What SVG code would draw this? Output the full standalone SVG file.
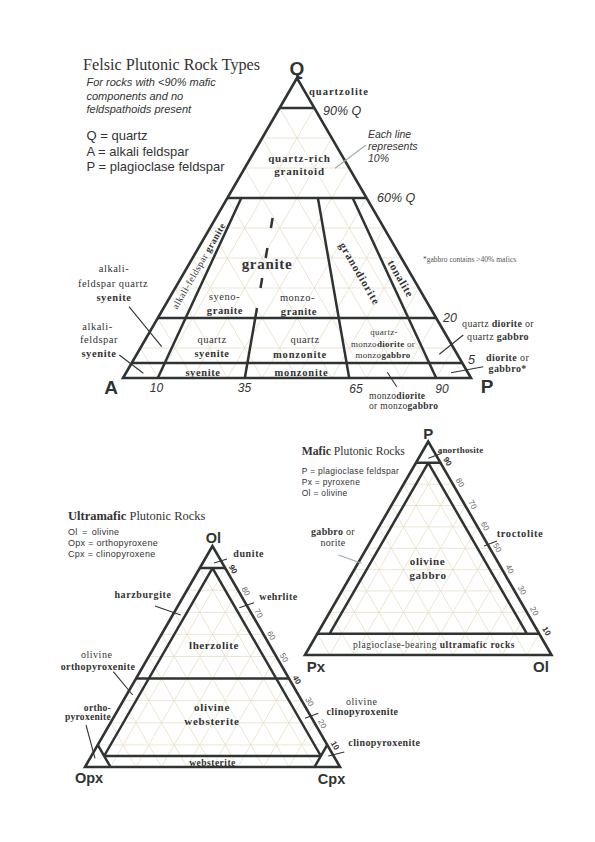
<svg xmlns="http://www.w3.org/2000/svg" width="595" height="842" viewBox="0 0 595 842">
<style>
.bg{fill:#ffffff}
.grid{fill:none;stroke:#e6dfc8;stroke-width:0.8}
.edge{fill:none;stroke:#2f3432;stroke-width:2.6;stroke-linejoin:miter}
.ln{fill:none;stroke:#2f3432;stroke-width:2.5;stroke-linecap:butt}
.lead{fill:none;stroke:#2f3432;stroke-width:1.1}
.leadg{fill:none;stroke:#9aabab;stroke-width:1.1}
text{fill:#333}
.sr{font-family:"Liberation Serif","Times New Roman",serif}
.b{font-weight:bold}
.ss{font-family:"Liberation Sans",Arial,sans-serif}
.it{font-style:italic}
.vx{font-family:"Liberation Sans",Arial,sans-serif;font-weight:bold;fill:#2f3432}
.tk{font-family:"Liberation Sans",Arial,sans-serif;font-size:8px;fill:#666}
.tkb{font-family:"Liberation Sans",Arial,sans-serif;font-size:8px;font-weight:bold;fill:#2f3432}
.m{text-anchor:middle}
.e{text-anchor:end}
</style>
<rect class="bg" x="0" y="0" width="595" height="842"/>

<!-- ================= FELSIC QAP ================= -->
<g id="felsic-title">
<text class="sr" x="83" y="69.5" font-size="16.2">Felsic Plutonic Rock Types</text>
<text class="ss it" x="86.5" y="86" font-size="11">For rocks with &lt;90% mafic</text>
<text class="ss it" x="86.5" y="99.5" font-size="11">components and no</text>
<text class="ss it" x="86.5" y="113" font-size="11">feldspathoids present</text>
<text class="ss" x="86.5" y="140" font-size="13">Q = quartz</text>
<text class="ss" x="86.5" y="155.5" font-size="13">A = alkali feldspar</text>
<text class="ss" x="86.5" y="170.5" font-size="13">P = plagioclase feldspar</text>
</g>

<g id="qap-grid">
<path class="grid" d="M140.4,348H453.6 M157.8,318H436.2 M175.2,288H418.8 M192.6,258H401.4 M210,228H384 M227.4,198H366.6 M244.8,168H349.2 M262.2,138H331.8 M279.6,108H314.4
M157.8,378L314.4,108 M192.6,378L331.8,138 M227.4,378L349.2,168 M262.2,378L366.6,198 M297,378L384,228 M331.8,378L401.4,258 M366.6,378L418.8,288 M401.4,378L436.2,318 M436.2,378L453.6,348
M436.2,378L279.6,108 M401.4,378L262.2,138 M366.6,378L244.8,168 M331.8,378L227.4,198 M297,378L210,228 M262.2,378L192.6,258 M227.4,378L175.2,288 M192.6,378L157.8,318 M157.8,378L140.4,348"/>
</g>

<g id="qap-fields">
<path class="ln" d="M279.6,108H314.4 M227.4,198H366.6 M157.8,318H436.2 M131.7,363H462.3"/>
<path class="ln" d="M157.8,378L241.3,198 M349.2,378L317.9,198 M436.2,378L352.7,198"/>
<path class="ln" d="M244.8,378L257,308 M260.5,288L262.2,278 M265.7,258L267.4,248 M270.9,228L272.6,218"/>
<polygon class="edge" points="297,78 123,378 471,378"/>
</g>

<g id="qap-vertices">
<text class="vx m" x="297" y="75" font-size="19">Q</text>
<text class="vx m" x="111" y="394" font-size="19">A</text>
<text class="vx m" x="487" y="393" font-size="19">P</text>
</g>

<g id="qap-scale">
<text class="ss it" x="323" y="115" font-size="12.5">90% Q</text>
<text class="ss it" x="377" y="201.5" font-size="12.5">60% Q</text>
<text class="ss it" x="443" y="321.5" font-size="12.5">20</text>
<text class="ss it" x="468" y="364" font-size="12.5">5</text>
<text class="ss it m" x="156.5" y="392" font-size="12">10</text>
<text class="ss it m" x="244.5" y="392" font-size="12">35</text>
<text class="ss it m" x="356" y="392.5" font-size="12">65</text>
<text class="ss it m" x="442" y="392.5" font-size="12">90</text>
<text class="ss it" x="368" y="137.5" font-size="10.5">Each line</text>
<text class="ss it" x="368" y="149.5" font-size="10.5">represents</text>
<text class="ss it" x="368" y="162" font-size="10.5">10%</text>
</g>

<g id="qap-labels">
<g id="quartzolite"><text class="sr b" x="309" y="95" font-size="10.5" letter-spacing="1">quartzolite</text></g>
<g id="quartz-rich-granitoid">
<text class="sr b m" x="299.5" y="161.5" font-size="11" letter-spacing="0.8">quartz-rich</text>
<text class="sr b m" x="299.5" y="174.5" font-size="11" letter-spacing="0.8">granitoid</text>
</g>
<g id="granite"><text class="sr b m" x="267" y="268.5" font-size="15" letter-spacing="0.7">granite</text></g>
<g id="syenogranite">
<text class="sr m" x="224.5" y="300" font-size="10.5" letter-spacing="0.5">syeno-</text>
<text class="sr b m" x="225" y="314" font-size="10.5" letter-spacing="0.6">granite</text>
</g>
<g id="monzogranite">
<text class="sr m" x="297.5" y="300.5" font-size="10.5" letter-spacing="0.5">monzo-</text>
<text class="sr b m" x="299" y="314.5" font-size="10.5" letter-spacing="0.6">granite</text>
</g>
<g id="alkali-feldspar-granite">
<text class="sr" transform="translate(201.5,267.5) rotate(-60)" text-anchor="middle" font-size="9.5" letter-spacing="0.5">alkali-feldspar <tspan class="b">granite</tspan></text>
</g>
<g id="granodiorite"><text class="sr b" transform="translate(356.5,275.5) rotate(60)" text-anchor="middle" font-size="11" letter-spacing="1">granodiorite</text></g>
<g id="tonalite"><text class="sr b" transform="translate(397.5,280.5) rotate(60)" text-anchor="middle" font-size="11" letter-spacing="0.7">tonalite</text></g>
<g id="gabbro-note"><text class="sr" x="423" y="262" font-size="7.5" fill="#555" style="fill:#555">*gabbro contains &gt;40%  mafics</text></g>
<g id="alkali-feldspar-quartz-syenite">
<text class="sr m" x="114" y="272" font-size="10.5" letter-spacing="0.5">alkali-</text>
<text class="sr m" x="113" y="286.5" font-size="10.5" letter-spacing="0.5">feldspar quartz</text>
<text class="sr b m" x="114" y="301" font-size="10.5" letter-spacing="0.6">syenite</text>
</g>
<g id="alkali-feldspar-syenite">
<text class="sr m" x="97.5" y="329.5" font-size="10.5" letter-spacing="0.5">alkali-</text>
<text class="sr m" x="99" y="343" font-size="10.5" letter-spacing="0.5">feldspar</text>
<text class="sr b m" x="99" y="356.5" font-size="10.5" letter-spacing="0.6">syenite</text>
</g>
<g id="quartz-syenite">
<text class="sr m" x="212" y="343" font-size="10.5" letter-spacing="0.5">quartz</text>
<text class="sr b m" x="212" y="356.5" font-size="10.5" letter-spacing="0.6">syenite</text>
</g>
<g id="syenite"><text class="sr b m" x="203" y="375.5" font-size="10.5" letter-spacing="0.6">syenite</text></g>
<g id="quartz-monzonite">
<text class="sr m" x="305" y="343" font-size="10.5" letter-spacing="0.5">quartz</text>
<text class="sr b m" x="300" y="358" font-size="10.5" letter-spacing="0.8">monzonite</text>
</g>
<g id="monzonite"><text class="sr b m" x="301.5" y="376" font-size="10.5" letter-spacing="0.8">monzonite</text></g>
<g id="quartz-monzodiorite">
<text class="sr m" x="384" y="335" font-size="9" letter-spacing="0.3">quartz-</text>
<text class="sr m" x="383" y="346.5" font-size="9" letter-spacing="0.3">monzo<tspan class="b">diorite</tspan> or</text>
<text class="sr m" x="383" y="358" font-size="9" letter-spacing="0.3">monzo<tspan class="b">gabbro</tspan></text>
</g>
<g id="monzodiorite">
<text class="sr" x="369" y="399" font-size="9.5" letter-spacing="0.3">monzo<tspan class="b">diorite</tspan></text>
<text class="sr" x="369" y="408.5" font-size="9.5" letter-spacing="0.3">or monzo<tspan class="b">gabbro</tspan></text>
</g>
<g id="quartz-diorite">
<text class="sr m" x="498" y="326.5" font-size="10" letter-spacing="0.3">quartz <tspan class="b">diorite</tspan> or</text>
<text class="sr m" x="498" y="339.5" font-size="10" letter-spacing="0.3">quartz <tspan class="b">gabbro</tspan></text>
</g>
<g id="diorite">
<text class="sr" x="486" y="361" font-size="10" letter-spacing="0.4"><tspan class="b">diorite</tspan> or</text>
<text class="sr b" x="488.5" y="371.5" font-size="10" letter-spacing="0.4">gabbro*</text>
</g>
</g>

<!-- ================= ULTRAMAFIC ================= -->
<g id="ultramafic-title">
<text class="sr" x="68" y="520" font-size="12.5"><tspan class="b">Ultramafic</tspan> Plutonic Rocks</text>
<text class="ss" x="68" y="535" font-size="9" letter-spacing="0.3" word-spacing="1.5">Ol = olivine</text>
<text class="ss" x="68" y="546" font-size="9" letter-spacing="0.3">Opx = orthopyroxene</text>
<text class="ss" x="68" y="557" font-size="9" letter-spacing="0.3">Cpx = clinopyroxene</text>
</g>

<g id="um-grid">
<path class="grid" d="M97.75,744.9H327.25 M110.5,722.8H314.5 M123.25,700.7H301.75 M136,678.6H289 M148.75,656.5H276.25 M161.5,634.4H263.5 M174.25,612.3H250.75 M187,590.2H238 M199.75,568.1H225.25
M110.5,767L225.25,568.1 M136,767L238,590.2 M161.5,767L250.75,612.3 M187,767L263.5,634.4 M212.5,767L276.25,656.5 M238,767L289,678.6 M263.5,767L301.75,700.7 M289,767L314.5,722.8 M314.5,767L327.25,744.9
M314.5,767L199.75,568.1 M289,767L187,590.2 M263.5,767L174.25,612.3 M238,767L161.5,634.4 M212.5,767L148.75,656.5 M187,767L136,678.6 M161.5,767L123.25,700.7 M136,767L110.5,722.8 M110.5,767L97.75,744.9"/>
</g>

<g id="um-fields">
<path class="ln" d="M199.75,568.1H225.25 M136,678.6H289 M104.1,756H320.9 M212.5,568.1L104.1,756 M212.5,568.1L320.9,756 M97.75,744.9L110.5,767 M327.25,744.9L314.5,767"/>
<polygon class="edge" points="212.5,546 85,767 340,767"/>
</g>

<g id="um-vertices">
<text class="vx m" x="213.5" y="542.5" font-size="14.5">Ol</text>
<text class="vx m" x="89" y="782.5" font-size="14.5">Opx</text>
<text class="vx m" x="331.5" y="783.5" font-size="14.5">Cpx</text>
</g>

<g id="um-scale">
<text class="tkb m" transform="translate(233.25,569.1) rotate(60)" dy="0.35em">90</text>
<text class="tk m" transform="translate(246,591.2) rotate(60)" dy="0.35em">80</text>
<text class="tk m" transform="translate(258.75,613.3) rotate(60)" dy="0.35em">70</text>
<text class="tk m" transform="translate(271.5,635.4) rotate(60)" dy="0.35em">60</text>
<text class="tk m" transform="translate(284.25,657.5) rotate(60)" dy="0.35em">50</text>
<text class="tkb m" transform="translate(297,679.6) rotate(60)" dy="0.35em">40</text>
<text class="tk m" transform="translate(309.75,701.7) rotate(60)" dy="0.35em">30</text>
<text class="tk m" transform="translate(322.5,723.8) rotate(60)" dy="0.35em">20</text>
<text class="tkb m" transform="translate(335.25,745.4) rotate(60)" dy="0.35em">10</text>
</g>

<g id="um-labels">
<g id="dunite"><text class="sr b" x="233.3" y="557" font-size="10" letter-spacing="0.6">dunite</text></g>
<g id="harzburgite"><text class="sr b m" x="143" y="598" font-size="10" letter-spacing="0.6">harzburgite</text></g>
<g id="wehrlite"><text class="sr b" x="259.3" y="599.5" font-size="10" letter-spacing="0.4">wehrlite</text></g>
<g id="lherzolite"><text class="sr b m" x="214" y="649" font-size="11" letter-spacing="0.6">lherzolite</text></g>
<g id="olivine-orthopyroxenite">
<text class="sr m" x="96.7" y="658" font-size="10" letter-spacing="0.5">olivine</text>
<text class="sr b m" x="98" y="669.5" font-size="10" letter-spacing="0.4">orthopyroxenite</text>
</g>
<g id="olivine-websterite">
<text class="sr b m" x="212" y="711" font-size="11" letter-spacing="0.7">olivine</text>
<text class="sr b m" x="212" y="724.5" font-size="11" letter-spacing="0.7">websterite</text>
</g>
<g id="orthopyroxenite">
<text class="sr b e" x="111" y="711" font-size="9.5" letter-spacing="0.3">ortho-</text>
<text class="sr b e" x="111" y="719.5" font-size="9.5" letter-spacing="0.3">pyroxenite</text>
</g>
<g id="olivine-clinopyroxenite">
<text class="sr m" x="361.7" y="704.5" font-size="10" letter-spacing="0.5">olivine</text>
<text class="sr b m" x="362.5" y="714.5" font-size="10" letter-spacing="0.4">clinopyroxenite</text>
</g>
<g id="clinopyroxenite"><text class="sr b" x="348.3" y="746" font-size="10" letter-spacing="0.4">clinopyroxenite</text></g>
<g id="websterite"><text class="sr b m" x="212.5" y="766" font-size="9.5" letter-spacing="0.5">websterite</text></g>
</g>

<!-- ================= MAFIC ================= -->
<g id="mafic-title">
<text class="sr" x="301.7" y="455" font-size="11.7"><tspan class="b">Mafic</tspan> Plutonic Rocks</text>
<text class="ss" x="301.7" y="474" font-size="8.5" letter-spacing="0.3">P = plagioclase feldspar</text>
<text class="ss" x="301.7" y="485" font-size="8.5" letter-spacing="0.3">Px = pyroxene</text>
<text class="ss" x="301.7" y="495.5" font-size="8.5" letter-spacing="0.3">Ol = olivine</text>
</g>

<g id="mafic-grid">
<path class="grid" d="M317.325,633.65H539.175 M329.65,612.3H526.85 M341.975,590.95H514.525 M354.3,569.6H502.2 M366.625,548.25H489.875 M378.95,526.9H477.55 M391.275,505.55H465.225 M403.6,484.2H452.9 M415.925,462.85H440.575
M329.65,655L440.575,462.85 M354.3,655L452.9,484.2 M378.95,655L465.225,505.55 M403.6,655L477.55,526.9 M428.25,655L489.875,548.25 M452.9,655L502.2,569.6 M477.55,655L514.525,590.95 M502.2,655L526.85,612.3 M526.85,655L539.175,633.65
M526.85,655L415.925,462.85 M502.2,655L403.6,484.2 M477.55,655L391.275,505.55 M452.9,655L378.95,526.9 M428.25,655L366.625,548.25 M403.6,655L354.3,569.6 M378.95,655L341.975,590.95 M354.3,655L329.65,612.3 M329.65,655L317.325,633.65"/>
</g>

<g id="mafic-fields">
<path class="ln" d="M415.925,462.85H440.575 M317.325,633.65H539.175 M428.25,462.85L329.65,633.65 M428.25,462.85L526.85,633.65"/>
<polygon class="edge" points="428.25,441.5 305,655 551.5,655"/>
</g>

<g id="mafic-vertices">
<text class="vx m" x="428.3" y="438.5" font-size="15">P</text>
<text class="vx m" x="316" y="671.7" font-size="15">Px</text>
<text class="vx m" x="541" y="671.7" font-size="15">Ol</text>
</g>

<g id="mafic-scale">
<text class="tkb m" transform="translate(447.6,461.4) rotate(60)" dy="0.35em">90</text>
<text class="tk m" transform="translate(460.2,482.5) rotate(60)" dy="0.35em">80</text>
<text class="tk m" transform="translate(472.7,504.5) rotate(60)" dy="0.35em">70</text>
<text class="tk m" transform="translate(485.1,526) rotate(60)" dy="0.35em">60</text>
<text class="tk m" transform="translate(497.5,547.5) rotate(60)" dy="0.35em">50</text>
<text class="tk m" transform="translate(509.8,569) rotate(60)" dy="0.35em">40</text>
<text class="tk m" transform="translate(522.1,590) rotate(60)" dy="0.35em">30</text>
<text class="tk m" transform="translate(534.4,611) rotate(60)" dy="0.35em">20</text>
<text class="tkb m" transform="translate(546.7,631) rotate(60)" dy="0.35em">10</text>
</g>

<g id="mafic-labels">
<g id="anorthosite"><text class="sr b" x="437.7" y="452.5" font-size="9" letter-spacing="0.2">anorthosite</text></g>
<g id="gabbro-norite">
<text class="sr m" x="333" y="535" font-size="10" letter-spacing="0.3"><tspan class="b">gabbro</tspan> or</text>
<text class="sr m" x="333" y="545.5" font-size="10" letter-spacing="0.3">norite</text>
</g>
<g id="troctolite"><text class="sr b" x="496.7" y="537" font-size="10.5" letter-spacing="0.6">troctolite</text></g>
<g id="olivine-gabbro">
<text class="sr b m" x="427.5" y="565" font-size="11" letter-spacing="0.6">olivine</text>
<text class="sr b m" x="428" y="578.5" font-size="11" letter-spacing="0.6">gabbro</text>
</g>
<g id="plagioclase-bearing"><text class="sr m" x="434" y="648" font-size="9.5" letter-spacing="0.5">plagioclase-bearing <tspan class="b">ultramafic rocks</tspan></text></g>
</g>

<!-- ================= CONNECTORS ================= -->
<g id="connectors">
<path class="leadg" d="M335,168.3L366,145"/>
<path class="lead" d="M129,306.7L161.7,346.7 M119.3,355L143.3,373.3 M387.3,372.3L396.7,386.7 M439.3,354.3L463.3,335 M451,372.7L483.3,366.7"/>
<path class="lead" d="M214,563L227,559 M155,606L180.7,615 M239.3,607.7L254,602.7 M113.3,671.7L132.7,695 M305,718.3L318.3,713.3 M86,725L95,758.3 M328.3,756L344.3,752"/>
<path class="lead" d="M428.3,458.3L441.7,453.3 M484,546L497,541"/>
<path class="leadg" d="M338.3,555L361.7,563.3"/>
</g>
</svg>
